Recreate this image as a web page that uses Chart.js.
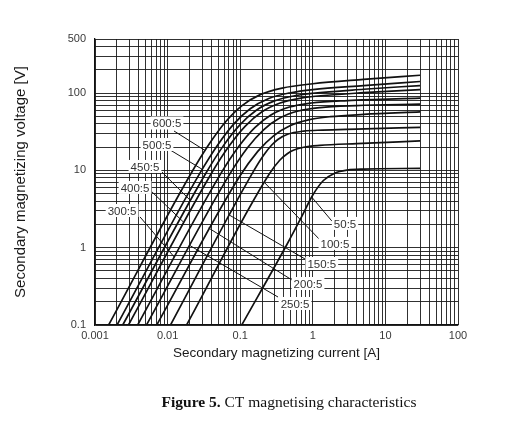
<!DOCTYPE html>
<html>
<head>
<meta charset="utf-8">
<script src="https://cdn.jsdelivr.net/npm/chart.js@4.4.1/dist/chart.umd.min.js"></script>
<style>
  html, body { margin: 0; padding: 0; background: #fff; }
</style>
</head>
<body>
<canvas id="myChart" width="515" height="427"></canvas>
<script>
// CT ratios, same order as the curves below
const ratios = ["600:5", "500:5", "450:5", "400:5", "300:5", "250:5", "200:5", "150:5", "100:5", "50:5"];

// [secondary current A, secondary voltage V]
const curve600 = [[0.00154, 0.1], [0.021, 9.1], [0.0378, 22.2], [0.063, 42.5], [0.105, 68.4], [0.189, 95.4], [0.378, 116], [1, 132], [5, 150], [30, 170]];
const curve500 = [[0.00201, 0.1], [0.0275, 9.0], [0.0495, 21.6], [0.0825, 40.2], [0.1375, 62.7], [0.2475, 84.9], [0.495, 101], [1, 111], [5, 125], [30, 141]];
const curve450 = [[0.00241, 0.1], [0.033, 8.9], [0.0594, 21.2], [0.099, 38.8], [0.165, 59.5], [0.297, 79.1], [0.594, 93.1], [1, 99.4], [5, 112], [30, 125]];
const curve400 = [[0.00289, 0.1], [0.0395, 8.9], [0.0711, 20.9], [0.1185, 37.7], [0.1975, 56.9], [0.3555, 74.4], [0.711, 86.5], [1, 90.2], [5, 101], [30, 111]];
const curve300 = [[0.00387, 0.1], [0.053, 8.8], [0.0954, 20.3], [0.159, 35.7], [0.265, 52.1], [0.477, 65.9], [0.954, 74.3], [3, 80], [30, 86]];
const curve250 = [[0.00512, 0.1], [0.07, 8.6], [0.126, 19.6], [0.21, 33.5], [0.35, 47.5], [0.63, 58.5], [1.26, 64.9], [4, 68.8], [30, 72]];
const curve200 = [[0.00709, 0.1], [0.097, 8.2], [0.1746, 17.6], [0.291, 28.2], [0.485, 37.8], [0.873, 45], [1.746, 49.5], [5, 52.9], [30, 57]];
const curve150 = [[0.01097, 0.1], [0.15, 9.5], [0.21, 15.7], [0.27, 21.1], [0.33, 25.1], [0.45, 29.3], [0.75, 32.2], [1.35, 33.2], [4, 34.2], [30, 36]];
const curve100 = [[0.01828, 0.1], [0.25, 8.9], [0.35, 13.5], [0.45, 16.5], [0.55, 18.3], [0.75, 19.9], [1.25, 21], [4, 22.2], [30, 24]];
const curve50 = [[0.105, 0.1], [0.44, 1.1], [0.7, 2.5], [1, 4.8], [1.4, 7.4], [2, 9.2], [3, 10.1], [5, 10.4], [30, 10.6]];

const curves = [curve600, curve500, curve450, curve400, curve300, curve250, curve200, curve150, curve100, curve50];

const xTickLabels = ["0.001", "0.01", "0.1", "1", "10", "100"];
const yTickLabels = ["0.1", "1", "10", "100", "500"];

// ratio labels: text centre, leader start, leader end (data coords)
const labelAt = [[0.0098, 40.4], [0.00714, 21.3], [0.00488, 11.07], [0.00356, 5.92], [0.00236, 2.98], [0.569, 0.187], [0.859, 0.339], [1.33, 0.615], [2.02, 1.12], [2.78, 2.03]];
const leaderFrom = [[0.01225, 32.3], [0.0108, 18.4], [0.00837, 9.5], [0.0061, 5.26], [0.00417, 2.5], [0.332, 0.23], [0.517, 0.382], [0.781, 0.714], [1.256, 1.26], [1.84, 2.2]];
const leaderTo = [[0.033, 18], [0.03, 10.3], [0.0205, 4.1], [0.0165, 2.15], [0.0123, 0.76], [0.0198, 1.08], [0.0366, 1.8], [0.0705, 2.65], [0.213, 7.05], [0.97, 4.5]];

// log grid: 1..9 per decade
const xGrid = [];
for (let k = -3; k <= 1; k++) for (let d = 1; d <= 9; d++) xGrid.push(d * Math.pow(10, k));
xGrid.push(100);
const yGrid = [];
for (let k = -1; k <= 1; k++) for (let d = 1; d <= 9; d++) yGrid.push(d * Math.pow(10, k));
yGrid.push(100, 200, 300, 400, 500);

function tickText(v, list) {
  const hit = list.find(t => Math.abs(Math.log10(Number(t)) - Math.log10(v)) < 1e-6);
  return hit ? hit : "";
}

const sans = "'Liberation Sans', Arial, Helvetica, sans-serif";
const serif = "'Liberation Serif', 'Times New Roman', serif";

const notes = {
  id: "notes",
  afterDatasetsDraw(chart) {
    const { ctx, scales: { x, y } } = chart;
    ctx.save();
    ctx.strokeStyle = "#111";
    ctx.lineWidth = 1;
    ratios.forEach((r, i) => {
      ctx.beginPath();
      ctx.moveTo(x.getPixelForValue(leaderFrom[i][0]), y.getPixelForValue(leaderFrom[i][1]));
      ctx.lineTo(x.getPixelForValue(leaderTo[i][0]), y.getPixelForValue(leaderTo[i][1]));
      ctx.stroke();
    });
    ctx.font = "11.5px " + sans;
    ctx.textAlign = "center";
    ctx.textBaseline = "middle";
    ratios.forEach((r, i) => {
      const px = x.getPixelForValue(labelAt[i][0]);
      const py = y.getPixelForValue(labelAt[i][1]);
      const w = ctx.measureText(r).width + 4;
      ctx.fillStyle = "#fff";
      ctx.fillRect(px - w / 2, py - 7, w, 13);
      ctx.fillStyle = "#333";
      ctx.fillText(r, px, py + 0.5);
    });
    ctx.restore();
  }
};

const caption = {
  id: "caption",
  afterDraw(chart) {
    const ctx = chart.ctx;
    const a = "Figure 5.";
    const b = " CT magnetising characteristics";
    ctx.save();
    ctx.fillStyle = "#111";
    ctx.textBaseline = "alphabetic";
    ctx.font = "bold 15.5px " + serif;
    const wa = ctx.measureText(a).width;
    ctx.font = "15.5px " + serif;
    const wb = ctx.measureText(b).width;
    const x0 = 289 - (wa + wb) / 2;
    ctx.font = "bold 15.5px " + serif;
    ctx.fillText(a, x0, 407);
    ctx.font = "15.5px " + serif;
    ctx.fillText(b, x0 + wa, 407);
    ctx.restore();
  }
};

const ctx = document.getElementById("myChart").getContext("2d");
const myChart = new Chart(ctx, {
  type: "line",
  data: {
    datasets: curves.map((c, i) => ({
      label: ratios[i],
      data: c.map(p => ({ x: p[0], y: p[1] })),
      borderColor: "#111",
      borderWidth: 1.7,
      pointRadius: 0,
      fill: false,
      cubicInterpolationMode: "monotone",
    })),
  },
  options: {
    responsive: false,
    animation: false,
    layout: { padding: { left: 8, top: 39, right: 57, bottom: 62 } },
    plugins: { legend: { display: false }, tooltip: { enabled: false } },
    scales: {
      x: {
        type: "logarithmic",
        min: 0.001,
        max: 100,
        afterBuildTicks: s => { s.ticks = xGrid.map(v => ({ value: v })); },
        afterFit: s => { s.height = 40; },
        ticks: {
          autoSkip: false,
          maxRotation: 0,
          padding: 4,
          color: "#3a3a3a",
          font: { family: sans, size: 11 },
          callback: v => tickText(v, xTickLabels),
        },
        grid: { color: "#1a1a1a", lineWidth: 0.9, drawTicks: false },
        border: { color: "#111", width: 1.3 },
        title: {
          display: true,
          text: "Secondary magnetizing current [A]",
          color: "#1a1a1a",
          font: { family: sans, size: 13.5 },
          padding: { top: 2, bottom: 4 },
        },
      },
      y: {
        type: "logarithmic",
        min: 0.1,
        max: 500,
        afterBuildTicks: s => { s.ticks = yGrid.map(v => ({ value: v })); },
        afterFit: s => { s.width = 87; },
        ticks: {
          autoSkip: false,
          padding: 9,
          color: "#3a3a3a",
          font: { family: sans, size: 11 },
          callback: v => tickText(v, yTickLabels),
        },
        grid: { color: "#1a1a1a", lineWidth: 0.9, drawTicks: false },
        border: { color: "#111", width: 1.3 },
        title: {
          display: true,
          text: "Secondary magnetizing voltage [V]",
          color: "#1a1a1a",
          font: { family: sans, size: 15 },
          padding: { top: 4, bottom: 4 },
        },
      },
    },
  },
  plugins: [notes, caption],
});
</script>
</body>
</html>
